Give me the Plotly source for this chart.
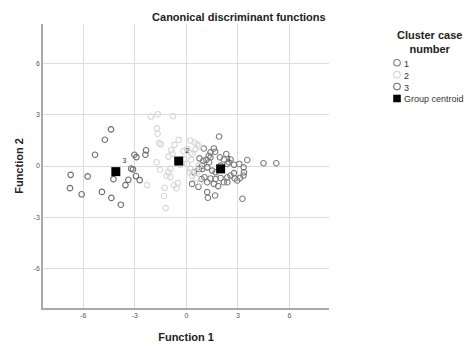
import plotly.graph_objects as go

# Cluster 1 (right group)
c1_x = [1.90, 1.01, 1.60, 1.67, 0.76, 0.98, 1.16, 1.32, 1.30, 1.40, 1.95, 2.18, 2.32, 2.47, 2.77, 3.07,
        2.57, 3.54, 4.49, 5.23, 0.92, 1.21, 1.50, 2.57, 2.81, 3.12, 3.35, 3.33, 2.77, 0.88, 1.05, 1.40,
        1.21, 1.60, 1.99, 1.70, 2.38, 2.18, 1.85, 1.21, 1.25, 1.67, 3.26, 3.32, 2.38, 0.33, 0.43, 0.70,
        0.92, 1.70, 0.72, 1.99, 2.38, 1.40, 2.96]
c1_y = [1.73, 1.03, 1.03, 0.84, 0.45, 0.31, 0.36, 0.22, 0.60, 0.51, 0.51, 0.38, 0.70, 0.22, 0.07, 0.12,
        0.38, 0.35, 0.16, 0.16, -0.17, -0.08, -0.27, -0.56, -0.73, -0.70, -0.37, -0.08, -0.42, -0.76, -0.66, -0.73,
        -0.95, -1.05, -0.70, -0.76, -0.95, -0.95, -1.18, -1.53, -1.86, -1.73, -1.92, -0.56, -0.66, -1.05, -0.37, -1.22,
        0.02, -0.37, -0.17, 0.02, 0.12, 0.80, -0.85]

# Cluster 2 (middle group)
c2_x = [-2.06, -1.67, -0.78, -1.71, -1.68, -1.58, -1.49, -0.45, 0.23, 0.48, -0.70, -0.89, -0.81, -1.04,
        -1.74, -1.54, -1.06, -0.94, -1.15, -0.94, -2.30, -1.27, -0.73, -0.50, -0.58, -1.30, -1.21, -0.16,
        0.04, 0.27, 0.23, 0.19, 0.33, 0.72, 0.63, 0.58, 0.82, -0.18, -0.35, 0.35, 0.53, 0.63, 0.72, 0.04, 0.23]
c2_y = [2.90, 3.04, 2.92, 2.21, 1.89, 1.34, 1.27, 1.53, 1.50, 1.38, 1.24, 0.92, 0.73, 0.55,
        0.22, -0.22, -0.36, -0.17, -0.57, -0.65, -1.12, -1.28, -1.13, -0.99, -1.30, -1.76, -2.47, 0.41,
        0.12, 0.37, -0.17, -0.37, -0.56, 0.02, -0.37, -0.72, -0.95, 0.87, 0.06, 0.70, 0.99, 1.28, 1.16, 0.99, 0.78]

# Cluster 3 (left group)
c3_x = [-4.39, -4.75, -5.32, -6.74, -5.75, -6.78, -6.10, -4.92, -4.37, -3.82, -4.25, -3.38, -3.55, -2.94,
        -2.72, -3.22, -3.11, -3.03, -2.91, -2.39, -2.35]
c3_y = [2.15, 1.54, 0.66, -0.52, -0.61, -1.30, -1.66, -1.52, -1.87, -2.27, -0.77, -0.81, -1.12, -0.59,
        -0.83, -0.15, -0.20, 0.66, 0.52, 0.66, 0.92]

# Group centroids
cent_labels = ["1", "2", "3"]
cent_x = [1.99, -0.45, -4.11]
cent_y = [-0.17, 0.29, -0.33]

ticks = [-6, -3, 0, 3, 6]

legend_title = "Cluster case<br>number"
legend_names = ["1", "2", "3", "Group centroid"]
cluster_colors = ["#7c7c7c", "#d6d6d6", "#6c6c6c"]

FONT = "Liberation Sans, Arial, sans-serif"
W, H = 474, 354
ML, MR, MT, MB = 43, 145, 24, 44
PW, PH = W - ML - MR, H - MT - MB


def px_x(px):
    return (px - ML) / PW


def px_y(py):
    return (H - MB - py) / PH


fig = go.Figure()
for name, xs, ys, col in zip(["1", "2", "3"], [c1_x, c2_x, c3_x], [c1_y, c2_y, c3_y], cluster_colors):
    fig.add_trace(go.Scatter(
        x=xs, y=ys, mode="markers", name=name, showlegend=False,
        marker=dict(symbol="circle-open", size=5.5, color=col, line=dict(width=1.1, color=col)),
    ))

fig.add_trace(go.Scatter(
    x=cent_x, y=cent_y, mode="markers+text", name="Group centroid", showlegend=False,
    text=cent_labels, textposition="top right",
    textfont=dict(size=7, color="#333333", family=FONT),
    marker=dict(symbol="square", size=9, color="black"),
))

axis_common = dict(
    tickvals=ticks, ticktext=[str(t) for t in ticks],
    showgrid=True, gridcolor="#dcdcdc", gridwidth=1,
    zeroline=False, showline=True, linecolor="#a8a8a8", linewidth=1.5,
    ticks="", tickfont=dict(size=7, color="#555555", family=FONT),
)

# Hand-built legend (compact spacing like the original)
shapes = []
annotations = []
annotations.append(dict(text="<b>" + legend_title + "</b>", x=px_x(429), y=px_y(42.5), xref="paper", yref="paper",
                        xanchor="center", yanchor="middle", showarrow=False, align="center",
                        font=dict(size=11, color="#222222", family=FONT)))
row_y = [63, 75, 87, 99]
for i, (name, ry) in enumerate(zip(legend_names, row_y)):
    cx = 397
    if i < 3:
        r = 3.3
        shapes.append(dict(type="circle", xref="paper", yref="paper",
                           x0=px_x(cx - r), x1=px_x(cx + r), y0=px_y(ry + r), y1=px_y(ry - r),
                           line=dict(color=cluster_colors[i], width=1.1), fillcolor="rgba(0,0,0,0)"))
    else:
        r = 3.8
        shapes.append(dict(type="rect", xref="paper", yref="paper",
                           x0=px_x(cx - r), x1=px_x(cx + r), y0=px_y(ry + r), y1=px_y(ry - r),
                           line=dict(color="black", width=0), fillcolor="black"))
    annotations.append(dict(text=name, x=px_x(cx + 4.5), y=px_y(ry + 1), xref="paper", yref="paper",
                            xanchor="left", yanchor="middle", showarrow=False,
                            font=dict(size=9, color="#333333", family=FONT)))

fig.update_layout(
    width=W, height=H,
    margin=dict(l=ML, r=MR, t=MT, b=MB),
    paper_bgcolor="white", plot_bgcolor="white",
    font=dict(family=FONT, color="#222222"),
    showlegend=False,
    title=dict(text="<b>Canonical discriminant functions</b>", x=0.504, xref="container", xanchor="center",
               y=1 - 17 / 354, yref="container", yanchor="middle",
               font=dict(size=11, color="#222222", family=FONT)),
    xaxis=dict(range=[-8.35, 8.3], title=dict(text="<b>Function 1</b>", font=dict(size=11), standoff=15), **axis_common),
    yaxis=dict(range=[-8.33, 8.33], title=dict(text="<b>Function 2</b>", font=dict(size=11), standoff=8), **axis_common),
    shapes=shapes,
    annotations=annotations,
)

fig.write_html("out.html")
